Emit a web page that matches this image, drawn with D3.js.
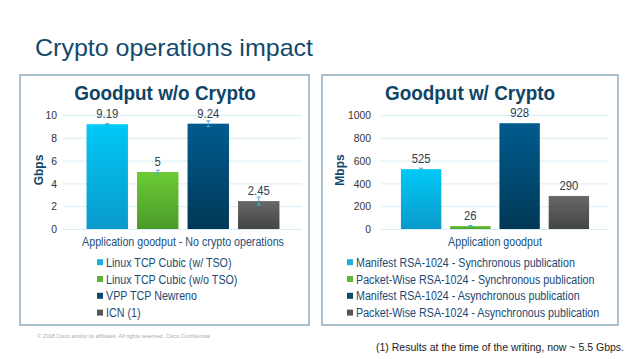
<!DOCTYPE html>
<html><head><meta charset="utf-8">
<script src="https://cdn.jsdelivr.net/npm/d3@7"></script>
<style>body{margin:0;background:#fff}svg{display:block}text{font-family:"Liberation Sans",Arial,sans-serif}</style>
</head><body>
<svg id="c" width="638" height="359"></svg>
<script>
// ---- data ----
const leftCategories = ["Linux TCP Cubic (w/ TSO)", "Linux TCP Cubic (w/o TSO)", "VPP TCP Newreno", "ICN (1)"];
const leftValues = [9.19, 5, 9.24, 2.45];
const leftLabels = ["9.19", "5", "9.24", "2.45"];
const leftErrors = [0.05, 0.15, 0.25, 0.35];
const leftTicks = [0, 2, 4, 6, 8, 10];

const rightCategories = ["Manifest RSA-1024 - Synchronous publication", "Packet-Wise RSA-1024 - Synchronous publication", "Manifest RSA-1024 - Asynchronous publication", "Packet-Wise RSA-1024 - Asynchronous publication"];
const rightValues = [525, 26, 928, 290];
const rightLabels = ["525", "26", "928", "290"];
const rightErrors = [8, 5, 0, 0];
const rightTicks = [0, 200, 400, 600, 800, 1000];

const seriesColors = [["#00c9f6", "#0a9acb"], ["#6ccb35", "#4a9a28"], ["#005c8e", "#003857"], ["#686868", "#444444"]];
const legendColors = ["#1aaee0", "#5cb535", "#0b4a70", "#555555"];

const svg = d3.select("#c");
const defs = svg.append("defs");
seriesColors.forEach((c, i) => {
  const g = defs.append("linearGradient").attr("id", "g" + i).attr("x1", 0).attr("y1", 0).attr("x2", 0).attr("y2", 1);
  g.append("stop").attr("offset", "0%").attr("stop-color", c[0]);
  g.append("stop").attr("offset", "100%").attr("stop-color", c[1]);
});

// narrow the (wider) fallback font to the reference's proportions
function condense(sel, f) {
  sel.each(function () {
    const w = this.getComputedTextLength();
    d3.select(this).attr("textLength", w * f).attr("lengthAdjust", "spacingAndGlyphs");
  });
}

svg.append("text").attr("x", 35).attr("y", 56).attr("font-size", 24).attr("fill", "#134a6b")
  .attr("textLength", 278).attr("lengthAdjust", "spacingAndGlyphs").text("Crypto operations impact");

function panel(o) {
  svg.append("rect").attr("x", o.box[0]).attr("y", 75).attr("width", o.box[1] - o.box[0]).attr("height", 250)
    .attr("fill", "#fff").attr("stroke", "#8fadbd").attr("stroke-width", 1.5);
  const t = svg.append("text").attr("x", o.titleX).attr("y", 100).attr("text-anchor", "middle").attr("font-size", 21)
    .attr("font-weight", "bold").attr("fill", "#0e4466").text(o.title);
  condense(t, 0.9);
  const y = d3.scaleLinear().domain([0, o.max]).range([229, 115]);
  const x = d3.scaleBand().domain(o.cats).range(o.band).paddingInner(0.18).paddingOuter(0.09);
  const ax = svg.append("g").attr("transform", `translate(${o.grid[0]},0)`)
    .call(d3.axisLeft(y).tickValues(o.ticks).tickFormat(d3.format("d")).tickSize(-(o.grid[1] - o.grid[0])).tickPadding(o.tickPad));
  ax.select(".domain").remove();
  ax.selectAll(".tick line").attr("stroke", "#d6ecf7").attr("stroke-width", 1);
  ax.selectAll(".tick text").attr("font-size", 11.5).attr("fill", "#333").attr("font-family", '"Liberation Sans",Arial,sans-serif');
  condense(ax.selectAll(".tick text"), 0.9);
  svg.append("text").attr("transform", `translate(${o.yTitleX},170) rotate(-90)`).attr("text-anchor", "middle")
    .attr("font-size", 12).attr("font-weight", "bold").attr("fill", "#134a6b").text(o.yTitle);
  svg.selectAll(null).data(o.values).enter().append("rect")
    .attr("x", (d, i) => x(o.cats[i])).attr("width", x.bandwidth())
    .attr("y", d => y(d)).attr("height", d => y(0) - y(d)).attr("fill", (d, i) => `url(#g${i})`);
  o.values.forEach((v, i) => {
    const e = o.errors[i];
    if (!e) return;
    const cx = x(o.cats[i]) + x.bandwidth() / 2;
    const g = svg.append("g").attr("stroke", "#4fa6d6").attr("stroke-width", 1);
    g.append("line").attr("x1", cx).attr("x2", cx).attr("y1", y(v + e)).attr("y2", y(v - e));
    g.append("line").attr("x1", cx - 2).attr("x2", cx + 2).attr("y1", y(v + e)).attr("y2", y(v + e));
    g.append("line").attr("x1", cx - 2).attr("x2", cx + 2).attr("y1", y(v - e)).attr("y2", y(v - e));
  });
  const vl = svg.selectAll(null).data(o.values).enter().append("text")
    .attr("x", (d, i) => x(o.cats[i]) + x.bandwidth() / 2).attr("y", d => y(d) - 6)
    .attr("text-anchor", "middle").attr("font-size", 12.5).attr("fill", "#2d4050").text((d, i) => o.labels[i]);
  condense(vl, 0.9);
  const cl = svg.append("text").attr("x", o.catX).attr("y", 246).attr("text-anchor", "middle").attr("font-size", 12)
    .attr("fill", "#1d4f78").text(o.catLabel);
  condense(cl, 0.89);
  o.cats.forEach((c, i) => {
    const yy = 266.7 + i * 16.8;
    svg.append("rect").attr("x", o.legX).attr("y", yy - 7.5).attr("width", 6).attr("height", 6).attr("fill", legendColors[i]);
    const lt = svg.append("text").attr("x", o.legX + 9).attr("y", yy).attr("font-size", 12.3).attr("fill", "#1a4a72").text(c);
    condense(lt, 0.87);
  });
}

panel({box: [20, 309], title: "Goodput w/o Crypto", titleX: 165, max: 10, cats: leftCategories, values: leftValues,
  labels: leftLabels, errors: leftErrors, ticks: leftTicks, band: [82, 284], grid: [63, 302], tickPad: 6,
  yTitle: "Gbps", yTitleX: 43, catX: 183, catLabel: "Application goodput - No crypto operations", legX: 97});
panel({box: [322, 618], title: "Goodput w/ Crypto", titleX: 470, max: 1000, cats: rightCategories, values: rightValues,
  labels: rightLabels, errors: rightErrors, ticks: rightTicks, band: [396.5, 593.5], grid: [381, 608], tickPad: 10,
  yTitle: "Mbps", yTitleX: 344, catX: 495, catLabel: "Application goodput", legX: 347});

svg.append("text").attr("x", 37).attr("y", 338).attr("font-size", 5.5).attr("fill", "#aaa")
  .text("© 2018  Cisco and/or its affiliates. All rights reserved.   Cisco Confidential");
svg.append("text").attr("x", 376).attr("y", 351).attr("font-size", 10.8).attr("fill", "#222")
  .attr("textLength", 248).attr("lengthAdjust", "spacingAndGlyphs")
  .text("(1) Results at the time of the writing, now ~ 5.5 Gbps.");
</script>
</body></html>
